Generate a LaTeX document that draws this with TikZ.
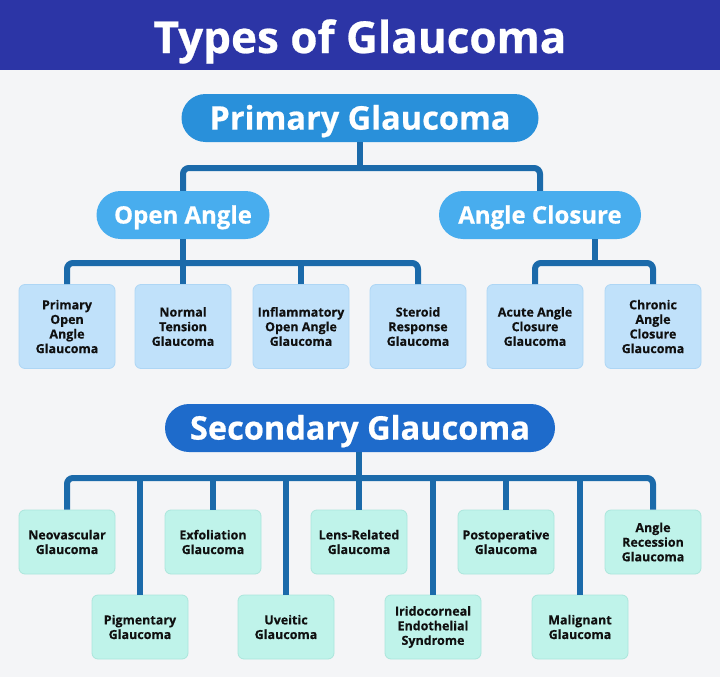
\documentclass[tikz,border=0pt]{standalone}
\usepackage{fontspec}
\setmainfont{Open Sans}
\newfontfamily\heavyfont{Open Sans}[FakeBold=0.6]
\newfontfamily\boxfont{Open Sans}[FakeBold=0.3]
\usetikzlibrary{positioning}

\definecolor{bandblue}{HTML}{2C35A6}
\definecolor{paper}{HTML}{F4F5F7}
\definecolor{primblue}{HTML}{2990DA}
\definecolor{skyblue}{HTML}{48ADEE}
\definecolor{secblue}{HTML}{1E6BCB}
\definecolor{linkblue}{HTML}{1B6AAA}
\definecolor{paleblue}{HTML}{C0E1FA}
\definecolor{paleedge}{HTML}{AED6F5}
\definecolor{mint}{HTML}{BFF3EA}
\definecolor{mintedge}{HTML}{ABE6DC}
\definecolor{ink}{HTML}{101010}

\tikzset{
  pill/.style={rounded corners=24pt, minimum height=48pt, inner sep=0pt,
    text=white, font=\heavyfont\bfseries\fontsize{32.5}{38}\selectfont,
    text height=23.2pt, text depth=0pt},
  subpill/.style={pill, fill=skyblue,
    font=\heavyfont\bfseries\fontsize{24}{28}\selectfont, text height=17.1pt},
  leafbox/.style={rounded corners=6pt, inner sep=0pt, minimum width=96pt,
    align=center, text=ink, line width=.8pt,
    font=\boxfont\bfseries\fontsize{12.5}{14.6}\selectfont},
  primbox/.style={leafbox, fill=paleblue, draw=paleedge, minimum height=84pt},
  secbox/.style={leafbox, fill=mint, draw=mintedge, minimum height=64pt},
  link/.style={draw=linkblue, line width=6pt, rounded corners=6pt},
}

\begin{document}
\begin{tikzpicture}[x=1pt,y=-1pt]
  \useasboundingbox (0,0) rectangle (720,677);
  \fill[paper] (0,0) rectangle (720,677);
  \fill[bandblue] (0,0) rectangle (720,70);

  \node[anchor=base, text=white, font=\heavyfont\bfseries\fontsize{44}{50}\selectfont]
    (title) at (360,53) {Types of Glaucoma};

  % primary
  \node[pill, fill=primblue, minimum width=357pt] (prim) at (360,118) {Primary Glaucoma};
  \node[subpill, minimum width=173pt] (open) at (183,215) {Open Angle};
  \node[subpill, minimum width=202pt] (closure) at (540,215) {Angle Closure};

  \node[primbox] (poag) at (67,326.5) {Primary\\Open\\Angle\\Glaucoma};
  \node[primbox] (ntg)  at (183,326.5) {Normal\\Tension\\Glaucoma};
  \node[primbox] (ioag) at (301,326.5) {Inflammatory\\Open Angle\\Glaucoma};
  \node[primbox] (srg)  at (418,326.5) {Steroid\\Response\\Glaucoma};
  \node[primbox] (aacg) at (535,326.5) {Acute Angle\\Closure\\Glaucoma};
  \node[primbox] (cacg) at (653,326.5) {Chronic\\Angle\\Closure\\Glaucoma};

  \coordinate (pbus) at (360,168);
  \coordinate (obus) at (183,263);
  \coordinate (cbus) at (595,263);

  \draw[link] (prim) -- (pbus);
  \draw[link] (open.north) |- (pbus) -| (closure.north);
  \draw[link] (open) -- (ntg);
  \draw[link] (poag.north) |- (obus) -| (srg.north);
  \draw[link] (ioag.north) -- (ioag.north |- obus);
  \draw[link] (cbus) -- (cbus |- closure.south);
  \draw[link] (aacg.north) |- (cbus) -| (cacg.north);

  % secondary
  \node[pill, fill=secblue, minimum width=390pt] (sec) at (360,428) {Secondary Glaucoma};

  \node[secbox] (nvg) at (67,542)  {Neovascular\\Glaucoma};
  \node[secbox] (pg)  at (140,627) {Pigmentary\\Glaucoma};
  \node[secbox] (xfg) at (213,542) {Exfoliation\\Glaucoma};
  \node[secbox] (ug)  at (286,627) {Uveitic\\Glaucoma};
  \node[secbox] (lrg) at (359,542) {Lens-Related\\Glaucoma};
  \node[secbox] (ice) at (433,627) {Iridocorneal\\Endothelial\\Syndrome};
  \node[secbox] (pog) at (506,542) {Postoperative\\Glaucoma};
  \node[secbox] (mg)  at (580,627) {Malignant\\Glaucoma};
  \node[secbox] (arg) at (653,542) {Angle\\Recession\\Glaucoma};

  \coordinate (sbus) at (359,478);
  \draw[link] (sec.south -| lrg.north) -- (lrg.north);
  \draw[link] (nvg.north) |- (sbus) -| (arg.north);
  \foreach \n in {pg,xfg,ug,ice,pog,mg}
    \draw[link] (\n.north) -- (\n.north |- sbus);

\end{tikzpicture}
\end{document}
